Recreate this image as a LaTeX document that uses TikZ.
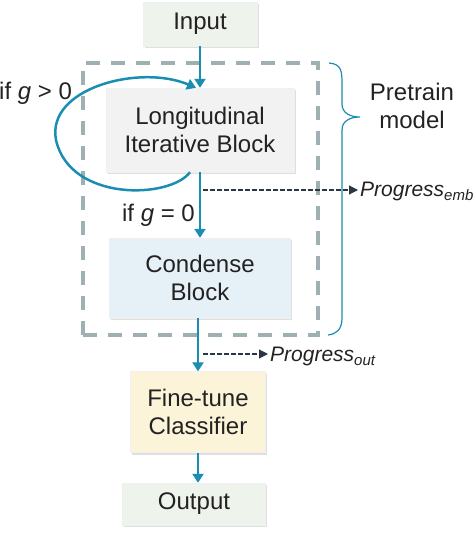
\documentclass[tikz,border=0pt]{standalone}
\usepackage{fontspec}
\setmainfont{Liberation Sans}
\usetikzlibrary{calc}
\usetikzlibrary{positioning}
\usetikzlibrary{arrows.meta}
\usetikzlibrary{shadows}
\definecolor{flow}{HTML}{1A8DB3}
\definecolor{frame}{HTML}{9FB0B3}
\definecolor{ink}{HTML}{222222}
\definecolor{tap}{HTML}{2B3645}
\definecolor{ioFill}{HTML}{EEF3EC}
\definecolor{libFill}{HTML}{F2F2F2}
\definecolor{condFill}{HTML}{E6F1F7}
\definecolor{clsFill}{HTML}{FBF4D8}
\tikzset{
  blk/.style={draw=black!6, inner sep=0pt, text=ink, align=center,
    font=\fontsize{24}{28}\selectfont,
    drop shadow={shadow xshift=1.5pt,shadow yshift=-2pt,opacity=0.25}},
  lbl/.style={inner sep=0pt, text=ink, align=center, font=\fontsize{24}{28}\selectfont},
  flowline/.style={draw=flow, line width=2.5pt, -{Triangle[length=9pt,width=11pt]}},
  tapline/.style={draw=tap, line width=1.1pt, dash pattern=on 4.5pt off 2.5pt,
    -{Triangle[length=9pt,width=9pt]}},
  prog/.style={inner sep=2pt, text=ink, font=\fontsize{21}{24}\selectfont\itshape},
}
\newcommand{\progsub}[1]{\raisebox{-4pt}{\fontsize{15}{16}\selectfont #1}}
\begin{document}
\begin{tikzpicture}[x=1pt,y=-1pt]
  \useasboundingbox (0,0) rectangle (474,535);
  \node[draw=frame, line width=4pt, dash pattern=on 14pt off 11pt,
    minimum width=235pt, minimum height=272pt] (pre) at (200.5,199) {};
  \node[blk, fill=ioFill, minimum width=114pt, minimum height=44pt] (input) at (200,24) {Input};
  \node[blk, fill=libFill, minimum width=188pt, minimum height=84pt] (lib) at (200,130) {Longitudinal\\Iterative Block};
  \node[blk, fill=condFill, minimum width=181pt, minimum height=80pt] (cond) at (200,278) {Condense\\Block};
  \node[blk, fill=clsFill, minimum width=135pt, minimum height=81pt] (cls) at (198,412) {Fine-tune\\Classifier};
  \node[blk, fill=ioFill, minimum width=143pt, minimum height=42pt] (out) at (194,504) {Output};
  \node[lbl, anchor=base west] (gpos) at (-1,99) {if \textit{g} > 0};
  \node[lbl, anchor=base east] (gzero) at (195,221) {if \textit{g} = 0};
  \node[lbl] (pretrain) at (412,106) {Pretrain\\model};
  \node[prog, anchor=base west] (emb) at (358,196) {Progress\progsub{emb}};
  \node[prog, anchor=base west] (pout) at (268,361) {Progress\progsub{out}};
  \coordinate (embtap) at (203,190);
  \coordinate (outtap) at (203,354);
  \draw[flowline] (input) -- (lib);
  \draw[flowline] (lib) -- (cond);
  \draw[flowline] (cond.south -| cls.north) -- (cls.north);
  \draw[flowline] (cls.south) -- (cls.south |- out.north);
  \draw[flowline] ([xshift=-10pt]lib.south) .. controls (170,199) and (70,202) .. (56,140)
    .. controls (46,88) and (140,64) .. ([xshift=-4pt]lib.north);
  \draw[tapline] (embtap) -- (embtap -| emb.west);
  \draw[tapline] (outtap) -- (outtap -| pout.west);
  \draw[flow, line width=1.2pt] (pre.north east) ++(9,2) .. controls +(13,1) and +(0,-13) .. (342,85)
    -- (342,104) .. controls (342,113) and (350,117) .. (360,117)
    .. controls (350,117) and (342,121) .. (342,130) -- (342,318)
    .. controls (342,330) and (336,334) .. (328,335);
\end{tikzpicture}
\end{document}
